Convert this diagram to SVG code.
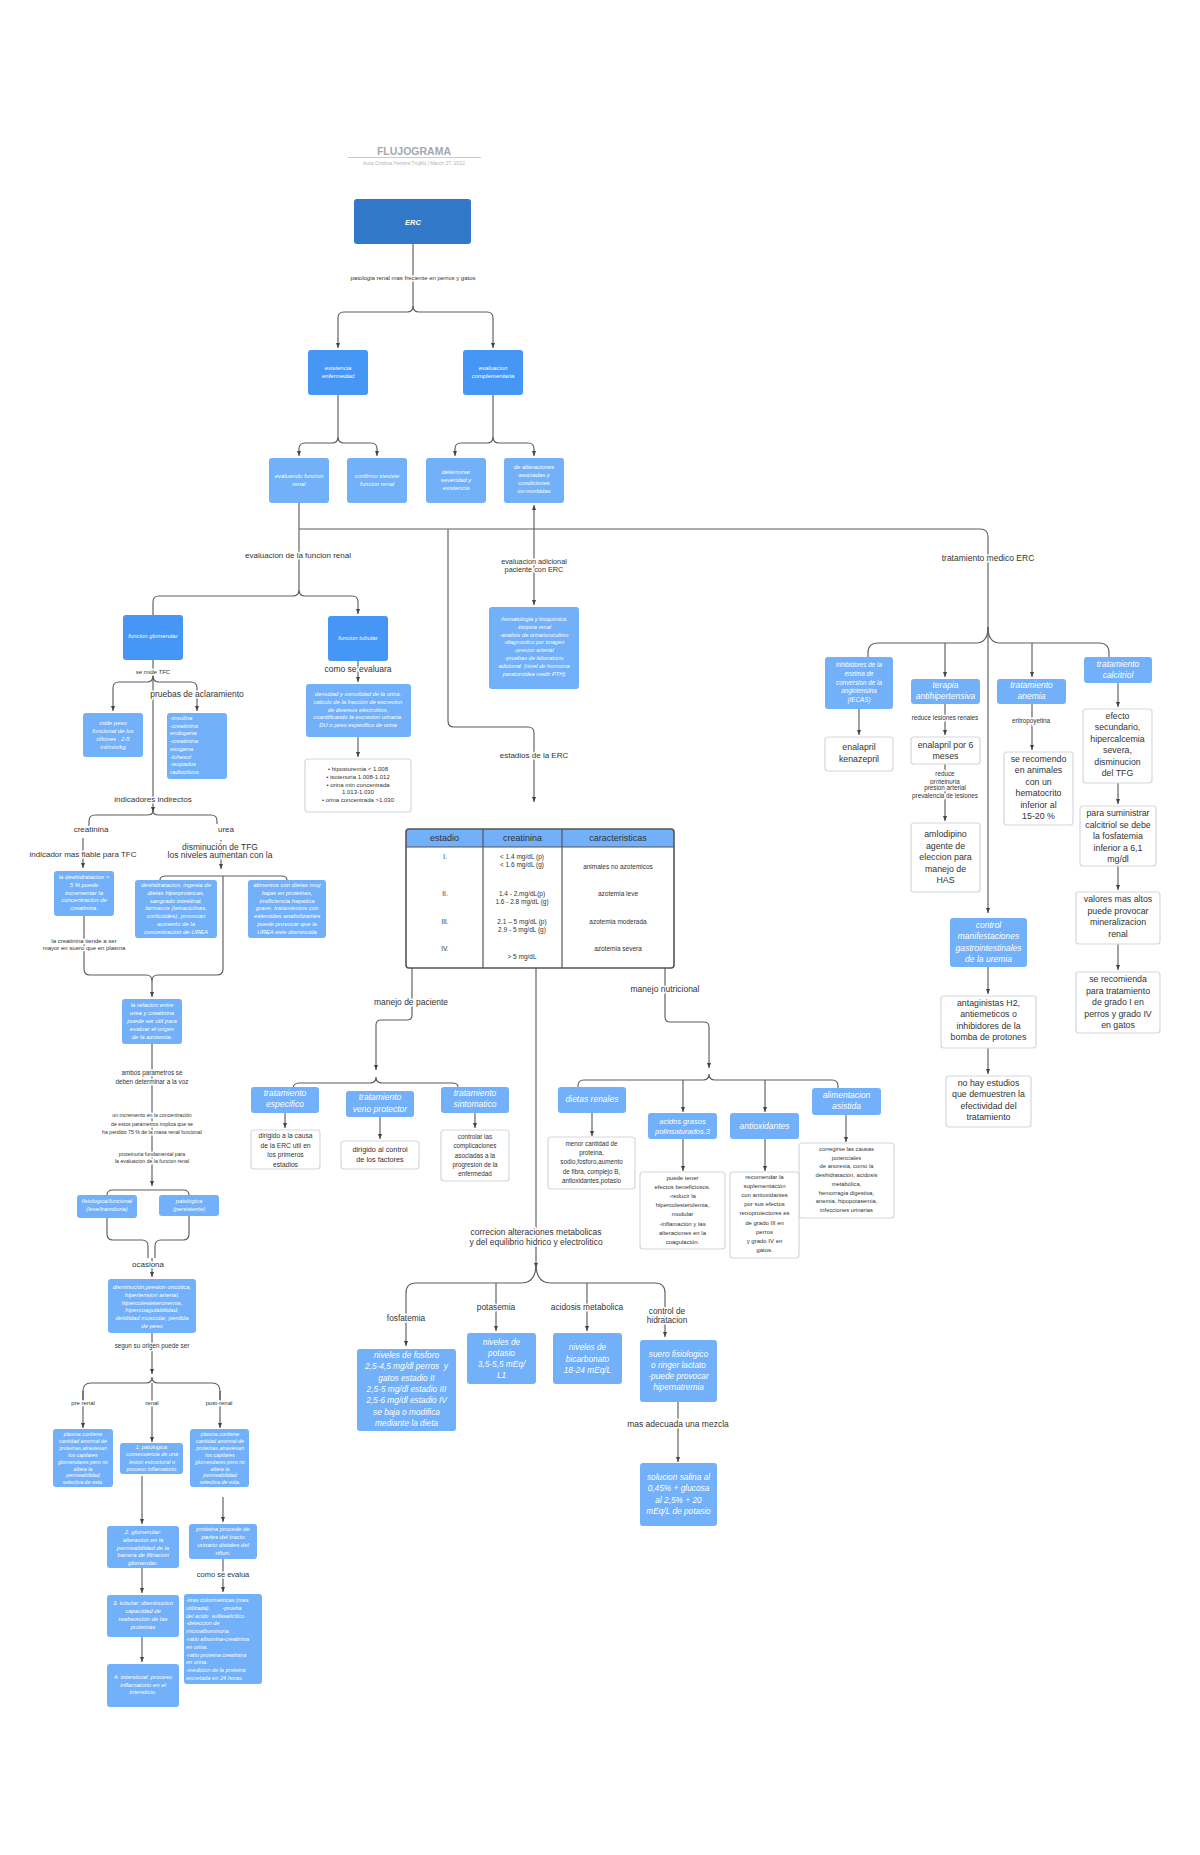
<svg xmlns="http://www.w3.org/2000/svg" width="1200" height="1855" viewBox="0 0 1200 1855">
<defs>
<style>
text{font-family:"Liberation Sans",Arial,sans-serif}
.w{fill:#fff;font-style:italic;text-anchor:middle}
.ws{fill:#fff;font-style:italic;text-anchor:start}
.d{fill:#333;text-anchor:middle}
.l{fill:#333;text-anchor:middle;paint-order:stroke;stroke:#fff;stroke-width:3px;stroke-linejoin:round}
.c0{fill:#3178c8}
.c1{fill:#4596f5}
.c2{fill:#72b0f9}
.wb{fill:#fff;stroke:#d3d8de;stroke-width:1.2}
.cn path{fill:none;stroke:#5e5e5e;stroke-width:1.15}
.cn path.a{marker-end:url(#ar)}
</style>
<marker id="ar" viewBox="0 0 10 10" refX="10" refY="5" markerWidth="5" markerHeight="5" orient="auto" markerUnits="userSpaceOnUse"><path d="M0,1 L10,5 L0,9 z" fill="#444"/></marker>
</defs>
<rect width="1200" height="1855" fill="#fff"/>

<g id="title">
<text x="414" y="155" text-anchor="middle" font-size="10.5" font-weight="bold" fill="#a3a8b0">FLUJOGRAMA</text>
<line x1="348" y1="157.5" x2="481" y2="157.5" stroke="#c8ccd2" stroke-width="1"/>
<text x="414" y="164.5" text-anchor="middle" font-size="5" fill="#b0b4bb">Aura Cristina Herrera Trujillo  |  March 27, 2022</text>
</g>

<g class="cn" id="connectors">
<path d="M413,244 V306 Q413,312 407,312 H344 Q338,312 338,318 V348" class="a"/>
<path d="M413,306 Q413,312 419,312 H487 Q493,312 493,318 V348" class="a"/>
<path d="M338,395 V437 Q338,443 332,443 H305 Q299,443 299,449 V456" class="a"/>
<path d="M338,437 Q338,443 344,443 H371 Q377,443 377,449 V456" class="a"/>
<path d="M493,395 V437 Q493,443 487,443 H461 Q455,443 455,449 V456" class="a"/>
<path d="M493,437 Q493,443 499,443 H528 Q534,443 534,449 V456" class="a"/>
<path d="M299,503 V590 Q299,596 293,596 H159 Q153,596 153,602 V615"/>
<path d="M299,590 Q299,596 305,596 H352 Q358,596 358,602 V614" class="a"/>
<path d="M299,529 H980 Q988,529 988,537 V913" class="a"/>
<path d="M534,529 V505" class="a"/>
<path d="M534,529 V605" class="a"/>
<path d="M448,529 V721 Q448,727 454,727 H528 Q534,727 534,733 V802" class="a"/>
<path d="M988,627 Q988,643 976,643 H878 Q868,643 868,653 V657"/>
<path d="M988,627 Q988,643 1000,643 H1099 Q1109,643 1109,653 V657"/>
<path d="M945,643 V677" class="a"/>
<path d="M1032,643 V677" class="a"/>
<path d="M859,709 V735" class="a"/>
<path d="M945,704 V735" class="a"/>
<path d="M945,764 V821" class="a"/>
<path d="M1032,704 V750" class="a"/>
<path d="M1118,683 V707" class="a"/>
<path d="M1118,783 V804" class="a"/>
<path d="M1118,866 V890" class="a"/>
<path d="M1118,944 V970" class="a"/>
<path d="M988,967 V994" class="a"/>
<path d="M988,1048 V1074" class="a"/>
<path d="M153,660 V676 Q153,682 147,682 H119 Q113,682 113,688 V711" class="a"/>
<path d="M153,676 Q153,682 159,682 H191 Q197,682 197,688 V711" class="a"/>
<path d="M153,676 V812" class="a"/>
<path d="M89,826 V821 Q89,815 95,815 H147 Q153,815 153,811 Q153,815 159,815 H211 Q217,815 217,821 V824"/>
<path d="M358,661 V682" class="a"/>
<path d="M358,737 V757" class="a"/>
<path d="M83,838 V868" class="a"/>
<path d="M221,840 V869" class="a"/>
<path d="M160,880 Q160,876 166,876 H281 Q287,876 287,880"/>
<path d="M84,916 V969 Q84,975 90,975 H146 Q152,975 152,981"/>
<path d="M223,876 V969 Q223,975 217,975 H158 Q152,975 152,981"/>
<path d="M152,981 V997" class="a"/>
<path d="M152,1044 V1186" class="a"/>
<path d="M107,1195 Q107,1190 113,1190 H183 Q189,1190 189,1195"/>
<path d="M107,1218 V1234 Q107,1240 113,1240 H142 Q148,1240 148,1246 V1258"/>
<path d="M189,1216 V1234 Q189,1240 183,1240 H161 Q155,1240 155,1246 V1258"/>
<path d="M152,1258 V1277" class="a"/>
<path d="M152,1333 V1374" class="a"/>
<path d="M83,1400 V1391 Q83,1383 91,1383 H146 Q152,1383 152,1377 Q152,1383 158,1383 H212 Q220,1383 220,1391 V1400"/>
<path d="M83,1391 V1428" class="a"/>
<path d="M152,1383 V1442" class="a"/>
<path d="M220,1391 V1428" class="a"/>
<path d="M142,1476 V1524" class="a"/>
<path d="M142,1568 V1593" class="a"/>
<path d="M142,1637 V1662" class="a"/>
<path d="M223,1497 V1522" class="a"/>
<path d="M223,1559 V1592" class="a"/>
<path d="M412,968 V1015 Q412,1020 407,1020 H381 Q376,1020 376,1025 V1070" class="a"/>
<path d="M293,1087 V1089 Q293,1083 299,1083 H370 Q376,1083 376,1077 Q376,1083 382,1083 H452 Q458,1083 458,1087"/>
<path d="M285,1113 V1128" class="a"/>
<path d="M380,1117 V1139" class="a"/>
<path d="M475,1113 V1128" class="a"/>
<path d="M536,968 V1268" class="a"/>
<path d="M536,1264 Q536,1283 521,1283 H416 Q406,1283 406,1293 V1346" class="a"/>
<path d="M536,1264 Q536,1283 551,1283 H655 Q665,1283 665,1293 V1337" class="a"/>
<path d="M496,1283 V1331" class="a"/>
<path d="M587,1283 V1331" class="a"/>
<path d="M678,1402 V1462" class="a"/>
<path d="M665,968 V1017 Q665,1022 670,1022 H704 Q709,1022 709,1027 V1068" class="a"/>
<path d="M578,1087 V1086 Q578,1080 584,1080 H703 Q709,1080 709,1074 Q709,1080 715,1080 H832 Q838,1080 838,1086 V1088"/>
<path d="M683,1080 V1112" class="a"/>
<path d="M765,1080 V1112" class="a"/>
<path d="M592,1113 V1136" class="a"/>
<path d="M683,1139 V1171" class="a"/>
<path d="M765,1139 V1171" class="a"/>
<path d="M846,1115 V1142" class="a"/>
</g>

<g id="labels">
<text class="l" font-size="6" x="413" y="280">patologia renal mas freciente en perros y gatos</text>
<text class="l" font-size="8" x="298" y="558">evaluacion de la funcion renal</text>
<text class="l" font-size="7.3" x="534" y="563.5">evaluacion adicional<tspan x="534" dy="8">paciente con ERC</tspan></text>
<text class="l" font-size="8" x="534" y="758">estadios de la ERC</text>
<text class="l" font-size="8.5" x="988" y="561">tratamiento medico ERC</text>
<text class="l" font-size="6" font-style="italic" x="153" y="674">se mide TFC</text>
<text class="l" font-size="8.5" x="197" y="697">pruebas de aclaramiento</text>
<text class="l" font-size="8.5" x="358" y="672">como se evaluara</text>
<text class="l" font-size="8" x="153" y="802">indicadores indirectos</text>
<text class="l" font-size="8" x="91" y="832">creatinina</text>
<text class="l" font-size="8" x="226" y="832">urea</text>
<text class="l" font-size="8" x="83" y="857">indicador mas fiable para TFC</text>
<text class="l" font-size="8.5" x="220" y="850">disminución de TFG<tspan x="220" dy="7.8">los niveles aumentan con la</tspan></text>
<text class="l" font-size="6" x="84" y="943">la creatinina tiende a ser<tspan x="84" dy="6.5">mayor en suero que en plasma</tspan></text>
<text class="l" font-size="6.3" x="152" y="1075">ambos parametros se<tspan x="152" dy="9">deben determinar a la voz</tspan></text>
<text class="l" font-size="5.2" x="152" y="1117">un incremento en la concentración<tspan x="152" dy="8.5">de estos parametros implica que se</tspan><tspan x="152" dy="8.5">ha perdido 75 % de la masa renal funcional</tspan></text>
<text class="l" font-size="5.2" x="152" y="1156">proteinuria fundamental para<tspan x="152" dy="7">la evaluacion de la funcion renal</tspan></text>
<text class="l" font-size="8" x="148" y="1267">ocasiona</text>
<text class="l" font-size="6.3" x="152" y="1348">segun su origen puede ser</text>
<text class="l" font-size="6" x="83" y="1405">pre renal</text>
<text class="l" font-size="6" x="152" y="1405">renal</text>
<text class="l" font-size="6" x="219" y="1405">post-renal</text>
<text class="l" font-size="7.5" x="223" y="1577">como se evalua</text>
<text class="l" font-size="6.3" x="945" y="720">reduce lesiones renales</text>
<text class="l" font-size="6.3" x="1031" y="723">eritropoyetina</text>
<text class="l" font-size="6.3" x="945" y="776">reduce</text>
<text class="l" font-size="6.3" x="945" y="784">proteinuria</text>
<text class="l" font-size="6.3" x="945" y="790">presion arterial</text>
<text class="l" font-size="6.3" x="945" y="798">prevalencia de lesiones</text>
<text class="l" font-size="8.5" x="411" y="1005">manejo de paciente</text>
<text class="l" font-size="8.5" x="665" y="992">manejo nutricional</text>
<text class="l" font-size="8.5" x="536" y="1235">correcion alteraciones metabolicas<tspan x="536" dy="10">y del equilibrio hidrico y electrolitico</tspan></text>
<text class="l" font-size="8.3" x="406" y="1321">fosfatemia</text>
<text class="l" font-size="8.3" x="496" y="1310">potasemia</text>
<text class="l" font-size="8.3" x="587" y="1310">acidosis metabolica</text>
<text class="l" font-size="8.3" x="667" y="1314">control de<tspan x="667" dy="9">hidratacion</tspan></text>
<text class="l" font-size="8.5" x="678" y="1427">mas adecuada una mezcla</text>
</g>

<g id="erc"><rect class="c0" x="354" y="199" width="117" height="45" rx="3"/><text class="w" font-size="7.5" font-weight="bold" x="413" y="225">ERC</text></g>
<g id="existencia"><rect class="c1" x="308" y="350" width="60" height="45" rx="3"/><text class="w" font-size="6" x="338" y="370">existencia<tspan x="338" dy="8">enfermedad</tspan></text></g>
<g id="evaluacion-complementaria"><rect class="c1" x="463" y="350" width="60" height="45" rx="3"/><text class="w" font-size="6" x="493" y="370">evaluacion<tspan x="493" dy="8">complementaria</tspan></text></g>
<g id="evaluando"><rect class="c2" x="269" y="458" width="60" height="45" rx="3"/><text class="w" font-size="6" x="299" y="478">evaluando funcion<tspan x="299" dy="8">renal</tspan></text></g>
<g id="confirmo"><rect class="c2" x="347" y="458" width="60" height="45" rx="3"/><text class="w" font-size="6" x="377" y="478">confirmo siexiste<tspan x="377" dy="8">funcion renal</tspan></text></g>
<g id="determinar"><rect class="c2" x="426" y="458" width="60" height="45" rx="3"/><text class="w" font-size="6" x="456" y="474">determinar<tspan x="456" dy="8">severidad y</tspan><tspan x="456" dy="8">existencia</tspan></text></g>
<g id="alteraciones"><rect class="c2" x="504" y="458" width="60" height="45" rx="3"/><text class="w" font-size="6" x="534" y="469">de alteraciones<tspan x="534" dy="8">asociadas y</tspan><tspan x="534" dy="8">condiciones</tspan><tspan x="534" dy="8">co-morbidas</tspan></text></g>

<g id="glomerular"><rect class="c1" x="123" y="615" width="60" height="45" rx="3"/><text class="w" font-size="6" x="153" y="638">funcion glomerular</text></g>
<g id="tubular"><rect class="c1" x="328" y="616" width="60" height="45" rx="3"/><text class="w" font-size="6" x="358" y="640">funcion tubular</text></g>
<g id="mide-peso"><rect class="c2" x="83" y="713" width="60" height="44" rx="3"/><text class="w" font-size="6" x="113" y="725">mide peso<tspan x="113" dy="8">funcional de los</tspan><tspan x="113" dy="8">riñones . 2-5</tspan><tspan x="113" dy="8">ml/min/kg</tspan></text></g>
<g id="aclaramiento"><rect class="c2" x="167" y="713" width="60" height="66" rx="3"/><text class="ws" font-size="6" x="170" y="720">-insulina<tspan x="170" dy="7.7">-creatinina</tspan><tspan x="170" dy="7.7">endogena</tspan><tspan x="170" dy="7.7">-creatinina</tspan><tspan x="170" dy="7.7">exogena</tspan><tspan x="170" dy="7.7">-lohexol</tspan><tspan x="170" dy="7.7">-isopados</tspan><tspan x="170" dy="7.7">radioctivos</tspan></text></g>
<g id="densidad"><rect class="c2" x="306" y="684" width="105" height="53" rx="3"/><text class="w" font-size="5.8" x="358" y="696">densidad y osmolidad de la orina.<tspan x="358" dy="7.75">calculo de la fraccion de excrecion</tspan><tspan x="358" dy="7.75">de diversos electrolitos,</tspan><tspan x="358" dy="7.75">cuantificando la excrecion urinaria.</tspan><tspan x="358" dy="7.75">DU o peso especifico de orina</tspan></text></g>
<g id="valores-du"><rect class="wb" x="305" y="759" width="106" height="53" rx="3"/><text class="d" font-size="6" x="358" y="771">• hiposturemia &lt; 1.008<tspan x="358" dy="7.8">• isotenuria 1.008-1.012</tspan><tspan x="358" dy="7.8">• orina min concentrada</tspan><tspan x="358" dy="7.8">1.013-1.030</tspan><tspan x="358" dy="7.8">• orina concentrada &gt;1.030</tspan></text></g>
<g id="deshidratacion-creat"><rect class="c2" x="54" y="871" width="60" height="45" rx="3"/><text class="w" font-size="6" x="84" y="879">la deshidratacion &gt;<tspan x="84" dy="7.8">5 % puede</tspan><tspan x="84" dy="7.8">incrementar la</tspan><tspan x="84" dy="7.8">concentracion de</tspan><tspan x="84" dy="7.8">creatinina.</tspan></text></g>
<g id="urea-aumento"><rect class="c2" x="135" y="880" width="82" height="58" rx="3"/><text class="w" font-size="6" x="176" y="887">deshidratacion, ingesta de<tspan x="176" dy="7.8">dietas hiperproteicas,</tspan><tspan x="176" dy="7.8">sangrado intestinal,</tspan><tspan x="176" dy="7.8">farmacos (tetraciclinas,</tspan><tspan x="176" dy="7.8">corticoides), provocan</tspan><tspan x="176" dy="7.8">aumento de la</tspan><tspan x="176" dy="7.8">concentracion de UREA</tspan></text></g>
<g id="urea-disminucion"><rect class="c2" x="248" y="880" width="78" height="58" rx="3"/><text class="w" font-size="6" x="287" y="887">alimentos con dietas muy<tspan x="287" dy="7.8">bajas en proteinas,</tspan><tspan x="287" dy="7.8">insificiencia hepatica</tspan><tspan x="287" dy="7.8">grave, tratamientos con</tspan><tspan x="287" dy="7.8">esteroides anabolizantes</tspan><tspan x="287" dy="7.8">puede provocar que la</tspan><tspan x="287" dy="7.8">UREA este disminuida</tspan></text></g>
<g id="relacion"><rect class="c2" x="122" y="999" width="60" height="45" rx="3"/><text class="w" font-size="6" x="152" y="1007">la relacion entre<tspan x="152" dy="8">urea y creatinina</tspan><tspan x="152" dy="8">puede ser util para</tspan><tspan x="152" dy="8">evaluar el origen</tspan><tspan x="152" dy="8">de la azotemia.</tspan></text></g>
<g id="fisiologica"><rect class="c2" x="77" y="1195" width="60" height="23" rx="3"/><text class="w" font-size="5.8" x="107" y="1203">fisiologica/funcional<tspan x="107" dy="8">(leve/transitoria)</tspan></text></g>
<g id="patologica"><rect class="c2" x="159" y="1195" width="60" height="21" rx="3"/><text class="w" font-size="5.8" x="189" y="1203">patologica<tspan x="189" dy="7.5">(persistente)</tspan></text></g>
<g id="disminucion"><rect class="c2" x="108" y="1279" width="88" height="54" rx="3"/><text class="w" font-size="6" x="152" y="1289">disminución,presion oncotica,<tspan x="152" dy="7.8">hipertension arterial,</tspan><tspan x="152" dy="7.8">hipercolesteteronemia,</tspan><tspan x="152" dy="7.8">hipercoagulabilidad,</tspan><tspan x="152" dy="7.8">debilidad muscular, perdida</tspan><tspan x="152" dy="7.8">de peso</tspan></text></g>
<g id="pre-renal"><rect class="c2" x="53" y="1429" width="60" height="58" rx="3"/><text class="w" font-size="5.3" x="83" y="1436">plasma contiene<tspan x="83" dy="6.9">cantidad anormal de</tspan><tspan x="83" dy="6.9">proteinas,atraviesan</tspan><tspan x="83" dy="6.9">los capilares</tspan><tspan x="83" dy="6.9">glomerulares pero no</tspan><tspan x="83" dy="6.9">altera la</tspan><tspan x="83" dy="6.9">permeabilidad</tspan><tspan x="83" dy="6.9">selectiva de esta.</tspan></text></g>
<g id="post-renal"><rect class="c2" x="190" y="1429" width="59" height="58" rx="3"/><text class="w" font-size="5.3" x="220" y="1436">plasma contiene<tspan x="220" dy="6.9">cantidad anormal de</tspan><tspan x="220" dy="6.9">proteinas,atraviesan</tspan><tspan x="220" dy="6.9">los capilares</tspan><tspan x="220" dy="6.9">glomerulares pero no</tspan><tspan x="220" dy="6.9">altera la</tspan><tspan x="220" dy="6.9">permeabilidad</tspan><tspan x="220" dy="6.9">selectiva de esta.</tspan></text></g>
<g id="renal-patologica"><rect class="c2" x="120" y="1443" width="63" height="31" rx="3"/><text class="w" font-size="5.5" x="152" y="1449">1. patologica:<tspan x="152" dy="7.4">consecuencia de una</tspan><tspan x="152" dy="7.4">lesion estructural o</tspan><tspan x="152" dy="7.4">proceso inflamatorio.</tspan></text></g>
<g id="renal-glomerular"><rect class="c2" x="107" y="1526" width="72" height="42" rx="3"/><text class="w" font-size="6" x="143" y="1534">2. glomerular:<tspan x="143" dy="7.8">alteracion en la</tspan><tspan x="143" dy="7.8">permeabilidad de la</tspan><tspan x="143" dy="7.8">barrera de filtracion</tspan><tspan x="143" dy="7.8">glomerular.</tspan></text></g>
<g id="renal-tubular"><rect class="c2" x="107" y="1595" width="72" height="42" rx="3"/><text class="w" font-size="6" x="143" y="1605">3. tubular: disminucion<tspan x="143" dy="8">capacidad de</tspan><tspan x="143" dy="8">reabsorción de las</tspan><tspan x="143" dy="8">proteinas</tspan></text></g>
<g id="renal-intersticial"><rect class="c2" x="107" y="1664" width="72" height="43" rx="3"/><text class="w" font-size="6" x="143" y="1679">4. intersticial: proceso<tspan x="143" dy="7.6">inflamatorio en el</tspan><tspan x="143" dy="7.6">intersticio.</tspan></text></g>
<g id="proteina-procede"><rect class="c2" x="189" y="1524" width="68" height="35" rx="3"/><text class="w" font-size="6" x="223" y="1531">proteina procede de<tspan x="223" dy="8">partes del tracto</tspan><tspan x="223" dy="8">urinario distales del</tspan><tspan x="223" dy="8">riñon.</tspan></text></g>
<g id="tiras"><rect class="c2" x="184" y="1594" width="78" height="90" rx="3"/><text class="ws" font-size="5.6" x="186" y="1602" xml:space="preserve">-tiras colorimetricas (mas<tspan x="186" dy="7.8">utilizada).        -prueba</tspan><tspan x="186" dy="7.8">del acido  sulfasalicilico.</tspan><tspan x="186" dy="7.8">-deteccion de</tspan><tspan x="186" dy="7.8">microalbuminuria.</tspan><tspan x="186" dy="7.8">-ratio albumina-creatinina</tspan><tspan x="186" dy="7.8">en orina.</tspan><tspan x="186" dy="7.8">-ratio proteina creatinina</tspan><tspan x="186" dy="7.8">en orina.</tspan><tspan x="186" dy="7.8">-medicion de la proteina</tspan><tspan x="186" dy="7.8">excretada en 24 horas.</tspan></text></g>

<g id="evaluacion-adicional"><rect class="c2" x="489" y="607" width="90" height="82" rx="3"/><text class="w" font-size="5.7" x="534" y="621">-hematologia y bioquimica.<tspan x="534" dy="7.8">-biopsia renal</tspan><tspan x="534" dy="7.8">-analisis de orina/urocultivo</tspan><tspan x="534" dy="7.8">-diagnostico por imagen</tspan><tspan x="534" dy="7.8">-presion arterial</tspan><tspan x="534" dy="7.8">-pruebas de laboratorio</tspan><tspan x="534" dy="7.8" xml:space="preserve">adicional  (nivel de hormona</tspan><tspan x="534" dy="7.8">paratoroidea medir PTH)</tspan></text></g>

<g id="tabla-estadios">
<rect x="406" y="829" width="268" height="139" rx="3" fill="#fff"/>
<path d="M409,829 H671 Q674,829 674,832 V847 H406 V832 Q406,829 409,829 Z" fill="#72b0f9"/>
<line x1="406" y1="847" x2="674" y2="847" stroke="#555" stroke-width="1.2"/>
<line x1="483" y1="829" x2="483" y2="968" stroke="#555" stroke-width="1.2"/>
<line x1="562" y1="829" x2="562" y2="968" stroke="#555" stroke-width="1.2"/>
<rect x="406" y="829" width="268" height="139" rx="3" fill="none" stroke="#555" stroke-width="1.6"/>
<text class="d" font-size="9" x="444.5" y="841">estadio</text>
<text class="d" font-size="9" x="522.5" y="841">creatinina</text>
<text class="d" font-size="9" x="618" y="841">caracteristicas</text>
<g font-size="6.5">
<text class="d" x="445" y="859">I.</text>
<text class="d" x="522" y="859">&lt; 1.4 mg/dL (p)<tspan x="522" dy="8">&lt; 1.6 mg/dL (g)</tspan></text>
<text class="d" x="618" y="869">animales no azotemicos</text>
<text class="d" x="445" y="896">II.</text>
<text class="d" x="522" y="896">1.4 - 2.mg/dL(p)<tspan x="522" dy="8">1.6 - 2.8 mg/dL (g)</tspan></text>
<text class="d" x="618" y="896">azotemia leve</text>
<text class="d" x="445" y="924">III.</text>
<text class="d" x="522" y="924">2.1 – 5 mg/dL (p)<tspan x="522" dy="8">2.9 - 5 mg/dL (g)</tspan></text>
<text class="d" x="618" y="924">azotemia moderada</text>
<text class="d" x="445" y="951">IV.</text>
<text class="d" x="522" y="959">&gt; 5 mg/dL</text>
<text class="d" x="618" y="951">azotemia severa</text>
</g>
</g>

<g id="iecas"><rect class="c2" x="825" y="657" width="68" height="52" rx="3"/><text class="w" font-size="6.3" x="859" y="667">inhibidores de la<tspan x="859" dy="8.8">enzima de</tspan><tspan x="859" dy="8.8">conversion de la</tspan><tspan x="859" dy="8.8">angiotensina</tspan><tspan x="859" dy="8.8">(IECAS)</tspan></text></g>
<g id="terapia"><rect class="c2" x="911" y="679" width="69" height="25" rx="3"/><text class="w" font-size="8.5" x="945.5" y="688">terapia<tspan x="945.5" dy="11">antihipertensiva</tspan></text></g>
<g id="anemia"><rect class="c2" x="997" y="679" width="69" height="25" rx="3"/><text class="w" font-size="8.5" x="1031.5" y="688">tratamiento<tspan x="1031.5" dy="11">anemia</tspan></text></g>
<g id="calcitriol"><rect class="c2" x="1084" y="657" width="68" height="26" rx="3"/><text class="w" font-size="8.5" x="1118" y="667">tratamiento<tspan x="1118" dy="11">calcitriol</tspan></text></g>
<g id="enalapril"><rect class="wb" x="825" y="737" width="68" height="34" rx="3"/><text class="d" font-size="8.8" x="859" y="750">enalapril<tspan x="859" dy="12">kenazepril</tspan></text></g>
<g id="enalapril-6"><rect class="wb" x="911" y="737" width="69" height="27" rx="3"/><text class="d" font-size="8.8" x="945.5" y="748">enalapril por 6<tspan x="945.5" dy="11">meses</tspan></text></g>
<g id="amlodipino"><rect class="wb" x="911" y="823" width="69" height="69" rx="3"/><text class="d" font-size="8.8" x="945.5" y="837">amlodipino<tspan x="945.5" dy="11.5">agente de</tspan><tspan x="945.5" dy="11.5">eleccion para</tspan><tspan x="945.5" dy="11.5">manejo de</tspan><tspan x="945.5" dy="11.5">HAS</tspan></text></g>
<g id="hematocrito"><rect class="wb" x="1004" y="752" width="69" height="73" rx="3"/><text class="d" font-size="8.8" x="1038.5" y="762">se recomendo<tspan x="1038.5" dy="11.4">en animales</tspan><tspan x="1038.5" dy="11.4">con un</tspan><tspan x="1038.5" dy="11.4">hematocrito</tspan><tspan x="1038.5" dy="11.4">inferior al</tspan><tspan x="1038.5" dy="11.4">15-20 %</tspan></text></g>
<g id="efecto"><rect class="wb" x="1083" y="709" width="69" height="74" rx="3"/><text class="d" font-size="8.8" x="1117.5" y="719">efecto<tspan x="1117.5" dy="11.4">secundario,</tspan><tspan x="1117.5" dy="11.4">hipercalcemia</tspan><tspan x="1117.5" dy="11.4">severa,</tspan><tspan x="1117.5" dy="11.4">disminucion</tspan><tspan x="1117.5" dy="11.4">del TFG</tspan></text></g>
<g id="suministrar"><rect class="wb" x="1080" y="806" width="76" height="60" rx="3"/><text class="d" font-size="8.8" x="1118" y="816">para suministrar<tspan x="1118" dy="11.5">calcitriol se debe</tspan><tspan x="1118" dy="11.5">la fosfatemia</tspan><tspan x="1118" dy="11.5">inferior a 6,1</tspan><tspan x="1118" dy="11.5">mg/dl</tspan></text></g>
<g id="valores-altos"><rect class="wb" x="1076" y="892" width="84" height="52" rx="3"/><text class="d" font-size="8.8" x="1118" y="902">valores mas altos<tspan x="1118" dy="11.6">puede provocar</tspan><tspan x="1118" dy="11.6">mineralizacion</tspan><tspan x="1118" dy="11.6">renal</tspan></text></g>
<g id="se-recomienda"><rect class="wb" x="1076" y="972" width="84" height="61" rx="3"/><text class="d" font-size="8.8" x="1118" y="982">se recomienda<tspan x="1118" dy="11.5">para tratamiento</tspan><tspan x="1118" dy="11.5">de grado I en</tspan><tspan x="1118" dy="11.5">perros y grado IV</tspan><tspan x="1118" dy="11.5">en gatos</tspan></text></g>
<g id="control-gi"><rect class="c2" x="950" y="918" width="77" height="49" rx="3"/><text class="w" font-size="8.5" x="988.5" y="928">control<tspan x="988.5" dy="11.3">manifestaciones</tspan><tspan x="988.5" dy="11.3">gastrointestinales</tspan><tspan x="988.5" dy="11.3">de la uremia</tspan></text></g>
<g id="antaginistas"><rect class="wb" x="941" y="996" width="95" height="52" rx="3"/><text class="d" font-size="8.8" x="988.5" y="1006">antaginistas H2,<tspan x="988.5" dy="11.3">antiemeticos o</tspan><tspan x="988.5" dy="11.3">inhibidores de la</tspan><tspan x="988.5" dy="11.3">bomba de protones</tspan></text></g>
<g id="no-hay-estudios"><rect class="wb" x="946" y="1076" width="85" height="51" rx="3"/><text class="d" font-size="8.8" x="988.5" y="1086">no hay estudios<tspan x="988.5" dy="11.3">que demuestren la</tspan><tspan x="988.5" dy="11.3">efectividad del</tspan><tspan x="988.5" dy="11.3">tratamiento</tspan></text></g>

<g id="trat-especifico"><rect class="c2" x="251" y="1087" width="68" height="26" rx="3"/><text class="w" font-size="8.5" x="285" y="1096">tratamiento<tspan x="285" dy="11">especifico</tspan></text></g>
<g id="trat-veno"><rect class="c2" x="346" y="1091" width="68" height="26" rx="3"/><text class="w" font-size="8.5" x="380" y="1100">tratamiento<tspan x="380" dy="11.5">veno protector</tspan></text></g>
<g id="trat-sintomatico"><rect class="c2" x="441" y="1087" width="68" height="26" rx="3"/><text class="w" font-size="8.5" x="475" y="1096">tratamiento<tspan x="475" dy="11">sintomatico</tspan></text></g>
<g id="dirigido-causa"><rect class="wb" x="251" y="1130" width="69" height="39" rx="3"/><text class="d" font-size="6.7" x="285.5" y="1138">dirigido a la causa<tspan x="285.5" dy="9.6">de la ERC util en</tspan><tspan x="285.5" dy="9.6">los primeros</tspan><tspan x="285.5" dy="9.6">estadios</tspan></text></g>
<g id="dirigido-control"><rect class="wb" x="341" y="1141" width="78" height="28" rx="3"/><text class="d" font-size="7.3" x="380" y="1152">dirigido al control<tspan x="380" dy="10">de los factores</tspan></text></g>
<g id="controlar"><rect class="wb" x="441" y="1130" width="68" height="51" rx="3"/><text class="d" font-size="6.3" x="475" y="1139">controlar las<tspan x="475" dy="9.3">complicaciones</tspan><tspan x="475" dy="9.3">asociadas a la</tspan><tspan x="475" dy="9.3">progresion de la</tspan><tspan x="475" dy="9.3">enfermedad</tspan></text></g>

<g id="dietas"><rect class="c2" x="558" y="1087" width="68" height="26" rx="3"/><text class="w" font-size="8.5" x="592" y="1102">dietas renales</text></g>
<g id="menor-cantidad"><rect class="wb" x="548" y="1137" width="87" height="52" rx="3"/><text class="d" font-size="6.3" x="591.5" y="1146">menor cantidad de<tspan x="591.5" dy="9.2">proteina,</tspan><tspan x="591.5" dy="9.2">sodio,fosforo,aumento</tspan><tspan x="591.5" dy="9.2">de fibra, complejo B,</tspan><tspan x="591.5" dy="9.2">antioxidantes,potasio</tspan></text></g>
<g id="acidos-grasos"><rect class="c2" x="648" y="1113" width="69" height="26" rx="3"/><text class="w" font-size="7.5" x="682.5" y="1124">acidos grasos<tspan x="682.5" dy="10">polinsaturados.3</tspan></text></g>
<g id="antioxidantes"><rect class="c2" x="730" y="1113" width="69" height="26" rx="3"/><text class="w" font-size="8.5" x="764.5" y="1129">antioxidantes</text></g>
<g id="alimentacion"><rect class="c2" x="812" y="1088" width="69" height="27" rx="3"/><text class="w" font-size="8.5" x="846.5" y="1098">alimentacion<tspan x="846.5" dy="11">asistida</tspan></text></g>
<g id="corregirse"><rect class="wb" x="799" y="1143" width="95" height="75" rx="3"/><text class="d" font-size="5.8" x="846.5" y="1151">corregirse las causas<tspan x="846.5" dy="8.7">potenciales</tspan><tspan x="846.5" dy="8.7">de anorexia, como la</tspan><tspan x="846.5" dy="8.7">deshidratación, acidosis</tspan><tspan x="846.5" dy="8.7">metabólica,</tspan><tspan x="846.5" dy="8.7">hemorragia digestiva,</tspan><tspan x="846.5" dy="8.7">anemia, hipopotasemia,</tspan><tspan x="846.5" dy="8.7">infecciones urinarias</tspan></text></g>
<g id="puede-tener"><rect class="wb" x="640" y="1172" width="85" height="77" rx="3"/><text class="d" font-size="6" x="682.5" y="1180">puede tener<tspan x="682.5" dy="9.1">efectos beneficiosos.</tspan><tspan x="682.5" dy="9.1">-reducir la</tspan><tspan x="682.5" dy="9.1">hipercolesterolemia,</tspan><tspan x="682.5" dy="9.1">modular</tspan><tspan x="682.5" dy="9.1">-inflamación y las</tspan><tspan x="682.5" dy="9.1">alteraciones en la</tspan><tspan x="682.5" dy="9.1">coagulación.</tspan></text></g>
<g id="recomendar"><rect class="wb" x="730" y="1172" width="69" height="86" rx="3"/><text class="d" font-size="6" x="764.5" y="1179">recomendar la<tspan x="764.5" dy="9.1">suplementación</tspan><tspan x="764.5" dy="9.1">con antioxidantes</tspan><tspan x="764.5" dy="9.1">por sus efectos</tspan><tspan x="764.5" dy="9.1">renoprotectores es</tspan><tspan x="764.5" dy="9.1">de grado III en</tspan><tspan x="764.5" dy="9.1">perros</tspan><tspan x="764.5" dy="9.1">y grado IV en</tspan><tspan x="764.5" dy="9.1">gatos.</tspan></text></g>

<g id="fosforo"><rect class="c2" x="357" y="1349" width="99" height="82" rx="3"/><text class="w" font-size="8.3" x="406.5" y="1358">niveles de fosforo<tspan x="406.5" dy="11.3" xml:space="preserve">2,5-4,5 mg/dl perros  y</tspan><tspan x="406.5" dy="11.3">gatos estadio II</tspan><tspan x="406.5" dy="11.3">2,5-5 mg/dl estadio III</tspan><tspan x="406.5" dy="11.3">2,5-6 mg/dl estadio IV</tspan><tspan x="406.5" dy="11.3">se baja o modifica</tspan><tspan x="406.5" dy="11.3">mediante la dieta</tspan></text></g>
<g id="potasio"><rect class="c2" x="467" y="1333" width="69" height="51" rx="3"/><text class="w" font-size="8.3" x="501.5" y="1345">niveles de<tspan x="501.5" dy="11">potasio</tspan><tspan x="501.5" dy="11">3,5-5,5 mEq/</tspan><tspan x="501.5" dy="11">L1</tspan></text></g>
<g id="bicarbonato"><rect class="c2" x="553" y="1333" width="69" height="51" rx="3"/><text class="w" font-size="8.3" x="587.5" y="1350">niveles de<tspan x="587.5" dy="11.5">bicarbonato</tspan><tspan x="587.5" dy="11.5">18-24 mEq/L</tspan></text></g>
<g id="suero"><rect class="c2" x="640" y="1340" width="77" height="62" rx="3"/><text class="w" font-size="8.3" x="678.5" y="1357">suero fisiologico<tspan x="678.5" dy="11">o ringer lactato</tspan><tspan x="678.5" dy="11">-puede provocar</tspan><tspan x="678.5" dy="11">hipernatremia</tspan></text></g>
<g id="solucion-salina"><rect class="c2" x="640" y="1463" width="77" height="63" rx="3"/><text class="w" font-size="8.3" x="678.5" y="1480">solucion salina al<tspan x="678.5" dy="11.3">0,45% + glucosa</tspan><tspan x="678.5" dy="11.3">al 2,5% + 20</tspan><tspan x="678.5" dy="11.3">mEq/L de potasio</tspan></text></g>
</svg>
